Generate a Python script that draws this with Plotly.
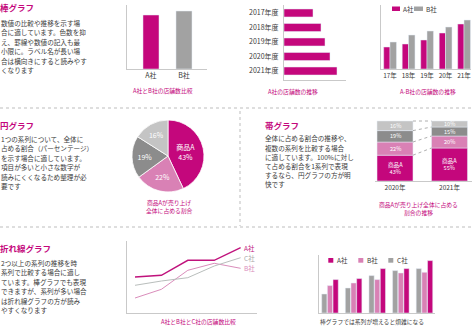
import plotly.graph_objects as go

W, H = 474, 328
MAG = "#c4077c"
PINK = "#d981b5"
DGRAY = "#8c8c8c"
LGRAY = "#c4c4c4"
BGRAY = "#a2a2a2"
AXIS = "#c9c9c9"
TXT = "#3a3a3a"
FONT = "Noto Sans CJK JP"

# ---------------- data ----------------
c1_labels = ["A社", "B社"]
c1_values = [54, 58]

c2_years = ["2017年度", "2018年度", "2019年度", "2020年度", "2021年度"]
c2_values = [29, 37, 41, 46, 53]

c3_years = ["17年", "18年", "19年", "20年", "21年"]
c3_a = [22, 25, 29, 36, 45]
c3_b = [27, 34, 38, 42, 49]

pie_names = ["商品A", "", "", ""]
pie_values = [43, 22, 19, 16]

stack_years = ["2020年", "2021年"]
share_a = [43, 55]
share_b = [22, 20]
share_c = [19, 15]
share_d = [16, 10]

line_a = [36, 37.7, 52.7, 52.7, 65.3]
line_b = [15, 23.7, 42.7, 49.7, 44.7]
line_c = [27.7, 32, 35.3, 47, 55.3]

bar6_a = [33.4, 34.4, 44.4, 44.4, 52.4]
bar6_b = [27.4, 30, 33.4, 40, 40.7]
bar6_c = [19, 25, 37.4, 42.4, 44.4]


def xd(x0, x1):
    return [x0 / W, x1 / W]


def yd(y0, y1):
    return [1 - y1 / H, 1 - y0 / H]


def px(x):
    return x / W


def py(y):
    return 1 - y / H


fig = go.Figure()

# chart 1
fig.add_trace(go.Bar(x=list(range(len(c1_values))), y=c1_values, marker_color=[MAG, BGRAY],
                     width=0.485, offset=-0.2425, xaxis="x", yaxis="y"))
# chart 2
fig.add_trace(go.Bar(y=list(range(len(c2_values))), x=c2_values, orientation="h", marker_color=MAG,
                     width=0.55, offset=-0.275, xaxis="x2", yaxis="y2"))
# chart 3
fig.add_trace(go.Bar(x=list(range(5)), y=c3_a, marker_color=MAG, width=0.34, offset=-0.34,
                     xaxis="x3", yaxis="y3"))
fig.add_trace(go.Bar(x=list(range(5)), y=c3_b, marker_color=BGRAY, width=0.35, offset=0.0,
                     xaxis="x3", yaxis="y3"))

# pie
pie_text = [(n + "<br>" if n else "") + f"{v}%" for n, v in zip(pie_names, pie_values)]
fig.add_trace(go.Pie(values=pie_values, text=pie_text, textinfo="text", textposition="inside",
                     insidetextorientation="horizontal", sort=False, direction="clockwise",
                     rotation=0, marker=dict(colors=[MAG, PINK, DGRAY, LGRAY],
                                             line=dict(color="white", width=0.8)),
                     textfont=dict(color="white", size=7, family=FONT),
                     domain=dict(x=xd(132, 204), y=yd(120, 192)), hoverinfo="skip"))

# stacked
segments = [(share_a, MAG, "商品A<br>"), (share_b, PINK, ""), (share_c, DGRAY, ""), (share_d, LGRAY, "")]
base = [0, 0]
cums = []
annots = []
for vals, col, pre in segments:
    fig.add_trace(go.Bar(x=[0, 1], y=vals, base=list(base), marker_color=col, width=0.66, offset=-0.33,
                         xaxis="x4", yaxis="y4"))
    for j in range(2):
        annots.append(dict(x=j, y=base[j] + vals[j] / 2, xref="x4", yref="y4", text=f"{pre}{vals[j]}%",
                           showarrow=False, borderpad=0,
                           font=dict(color="white", size=5.6, family=FONT)))
    base = [base[j] + vals[j] for j in range(2)]
    cums.append(list(base))
for c in cums:
    fig.add_trace(go.Scatter(x=[0.33, 0.67], y=c, mode="lines", line=dict(color="#999999", width=0.8, dash="dot"),
                             xaxis="x4", yaxis="y4"))

# line chart
for vals, col, wd, name in [(line_b, "#da8dbb", 1, "B社"), (line_c, "#b9bebc", 1, "C社"), (line_a, "#c0127c", 1.4, "A社")]:
    fig.add_trace(go.Scatter(x=list(range(len(vals))), y=vals, mode="lines", line=dict(color=col, width=wd),
                             xaxis="x5", yaxis="y5"))
    annots.append(dict(x=len(vals) - 1, y=vals[-1], xref="x5", yref="y5", text=name, showarrow=False,
                       xanchor="left", xshift=2, borderpad=0,
                       font=dict(color=col if name != "C社" else "#a9a9a9", size=6.5, family=FONT)))

# chart 6
for vals, col, off in [(bar6_c, BGRAY, -0.36), (bar6_b, PINK, -0.12), (bar6_a, MAG, 0.12)]:
    fig.add_trace(go.Bar(x=list(range(5)), y=vals, marker_color=col, width=0.22, offset=off,
                         xaxis="x6", yaxis="y6"))

common = dict(showgrid=False, zeroline=False, fixedrange=True, linecolor=AXIS, linewidth=1, ticks="")
tf = dict(size=6.5, color=TXT, family=FONT)
layout = dict(
    xaxis=dict(domain=xd(127, 207), range=[-0.727, 1.697], anchor="y", showline=True,
               tickvals=list(range(len(c1_labels))), ticktext=c1_labels, tickfont=dict(size=7, color=TXT, family=FONT), **common),
    yaxis=dict(domain=yd(5, 69), range=[0, 64], anchor="x", showline=True, showticklabels=False, **common),
    xaxis2=dict(domain=xd(284, 346), range=[0, 62], anchor="y2", showline=True, showticklabels=False, **common),
    yaxis2=dict(domain=yd(5, 80), range=[4.62, -0.55], anchor="x2", showline=True,
                tickvals=list(range(len(c2_years))), ticktext=c2_years, ticklabelstandoff=3,
                tickfont=dict(size=7, color=TXT, family=FONT), **common),
    xaxis3=dict(domain=xd(381, 471), range=[-0.486, 4.378], anchor="y3", showline=True,
                tickvals=list(range(5)), ticktext=c3_years, tickfont=tf, **common),
    yaxis3=dict(domain=yd(5, 69), range=[0, 64], anchor="x3", showline=True, showticklabels=False, **common),
    xaxis4=dict(domain=xd(375, 472), range=[-0.367, 1.413], anchor="y4", showline=True,
                tickvals=[0, 1], ticktext=stack_years, tickfont=tf, **common),
    yaxis4=dict(domain=yd(115, 181), range=[0, 110], anchor="x4", showline=False, showticklabels=False, **common),
    xaxis5=dict(domain=xd(127, 257), range=[-0.303, 4.62], anchor="y5", showline=True, showticklabels=False, **common),
    yaxis5=dict(domain=yd(241, 313), range=[0, 72], anchor="x5", showline=True, showticklabels=False, **common),
    xaxis6=dict(domain=xd(319, 435), range=[-0.475, 4.436], anchor="y6", showline=True, showticklabels=False, **common),
    yaxis6=dict(domain=yd(255, 313), range=[0, 58], anchor="x6", showline=True, showticklabels=False, **common),
)

# text
def txt(x, y, s, size=6.6, color=TXT, anchor="left"):
    annots.append(dict(x=px(x), y=py(y), xref="paper", yref="paper", text=s, showarrow=False,
                       xanchor=anchor, yanchor="middle", borderpad=0,
                       font=dict(size=size, color=color, family=FONT)))

titles = [("棒グラフ", 0, 7), ("円グラフ", 0, 125), ("帯グラフ", 265, 124.5), ("折れ線グラフ", 0, 248)]
for s, x, y in titles:
    txt(x - 1, y, f"<b>{s}</b>", size=8.5, color=MAG)

blocks = [
    (0, 22.7, 9.45, ["数値の比較や推移を示す場", "合に適しています。色数を抑", "え、罫線や数値の記入も最",
                     "小限に。ラベル名が長い場", "合は横向きにすると読みやす", "くなります"]),
    (0, 139, 9.4, ["1つの系列について、全体に", "占める割合（パーセンテージ）", "を示す場合に適しています。",
                   "項目が多いと小さな数字が", "読みにくくなるため整理が必", "要です"]),
    (264, 138.3, 9.2, ["全体に占める割合の推移や、", "複数の系列を比較する場合", "に適しています。100%に対し",
                       "て占める割合を1系列で表現", "するなら、円グラフの方が明", "快です"]),
    (0, 263, 9.4, ["2つ以上の系列の推移を時", "系列で比較する場合に適し", "ています。棒グラフでも表現",
                   "できますが、系列が多い場合", "は折れ線グラフの方が読み", "やすくなります"]),
]
for x, y0, dy, lines in blocks:
    for i, s in enumerate(lines):
        txt(x, y0 + dy * i, s)

captions = [("A社とB社の店舗数比較", 163, 90, MAG), ("A社の店舗数の推移", 293, 91, MAG),
            ("A-B社の店舗数の推移", 428, 91, MAG), ("商品Aが売り上げ", 169, 202, MAG),
            ("全体に占める割合", 169, 210.5, MAG), ("商品Aが売り上げ全体に占める", 418, 204, MAG),
            ("割合の推移", 418, 212.5, MAG), ("A社とB社とC社の店舗数比較", 198, 321, MAG),
            ("棒グラフでは系列が増えると煩雑になる", 372, 321, TXT)]
for s, x, y, c in captions:
    txt(x, y, s, size=5.8, color=c, anchor="center")

# legends
shapes = []
def legend_key(x0, x1, y0, y1, col, label, lx):
    shapes.append(dict(type="rect", xref="paper", yref="paper", x0=px(x0), x1=px(x1), y0=py(y1), y1=py(y0),
                       fillcolor=col, line=dict(width=0)))
    txt(lx, (y0 + y1) / 2, label, size=6.5)

legend_key(392, 400, 6.5, 11, MAG, "A社", 402)
legend_key(414, 423, 6.5, 11, BGRAY, "B社", 425)
legend_key(328.3, 333.3, 258, 262.7, MAG, "A社", 336)
legend_key(358.3, 363.3, 258, 262.7, PINK, "B社", 366)
legend_key(388.3, 393.3, 258, 262.7, BGRAY, "C社", 396)

# dotted separators
for y in (108, 227):
    shapes.append(dict(type="line", xref="paper", yref="paper", x0=0, x1=1, y0=py(y), y1=py(y),
                       line=dict(color="#bdbdbd", width=1, dash="dot")))
shapes.append(dict(type="line", xref="paper", yref="paper", x0=px(240), x1=px(240), y0=py(111), y1=py(226),
                   line=dict(color="#bdbdbd", width=1, dash="dot")))

fig.update_layout(**layout)
fig.update_layout(width=W, height=H, margin=dict(l=0, r=0, t=0, b=0), paper_bgcolor="white",
                  plot_bgcolor="white", showlegend=False, barmode="group", annotations=annots,
                  shapes=shapes, hovermode=False, font=dict(family=FONT))
fig.write_html("out.html")
